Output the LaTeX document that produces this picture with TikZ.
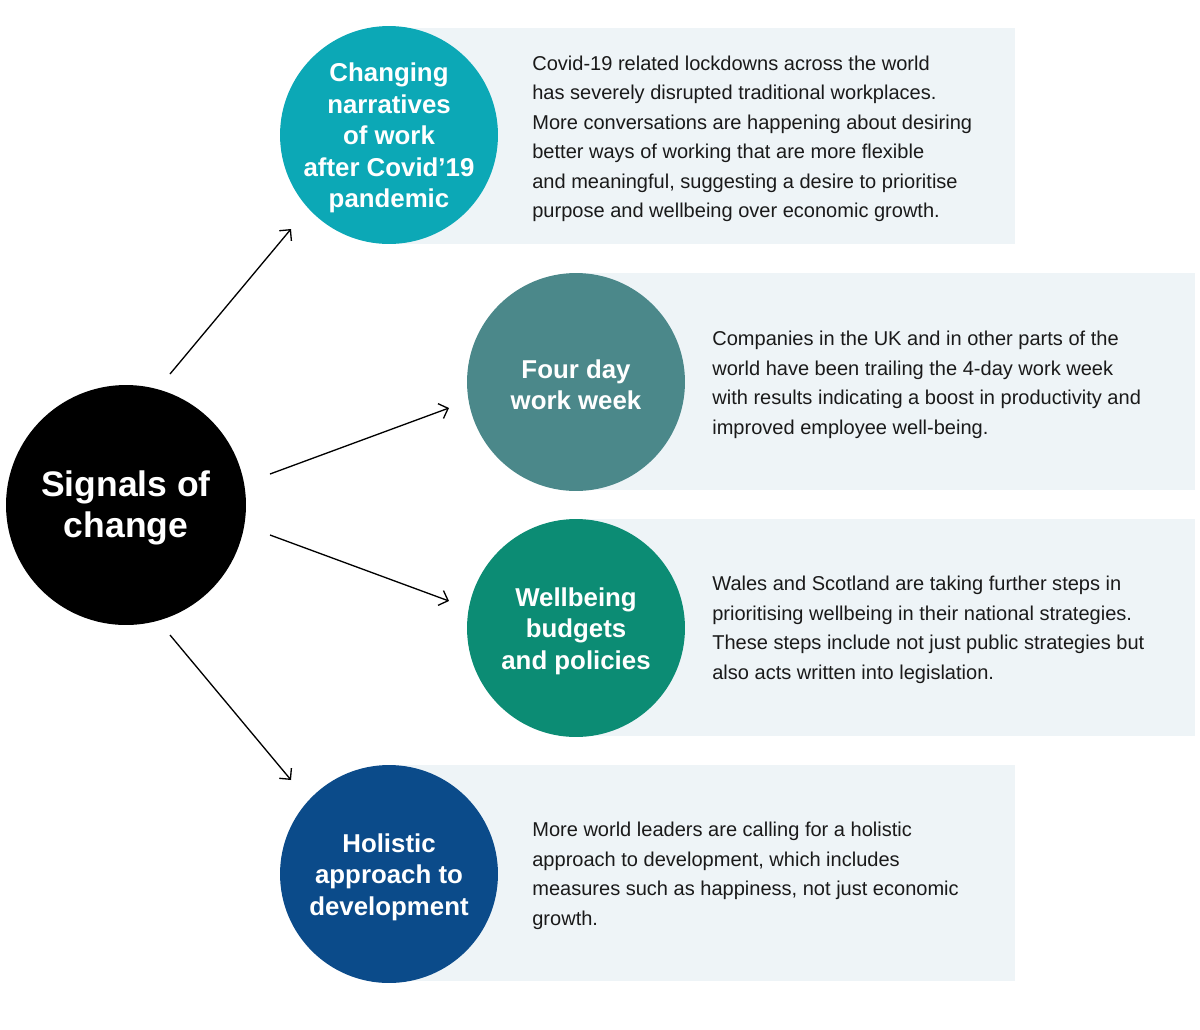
\documentclass[tikz,border=0pt]{standalone}
\usepackage{fontspec}
\setmainfont{Liberation Sans}
\usetikzlibrary{arrows.meta,positioning}
\definecolor{panel}{HTML}{EEF4F7}
\definecolor{covid}{HTML}{0CA8B6}
\definecolor{fourday}{HTML}{4B888A}
\definecolor{wellb}{HTML}{0C8C74}
\definecolor{holist}{HTML}{0B4B8A}
\definecolor{texto}{HTML}{1A1A1A}

\begin{document}
\begin{tikzpicture}[x=0.02cm,y=-0.02cm,
    disc/.style={circle,inner sep=-6pt,minimum size=4.36cm,text=white,align=center,
      font=\fontsize{14.7pt}{17.9pt}\selectfont\bfseries},
    info/.style={anchor=west,align=left,inner sep=0pt,text=texto,
      font=\fontsize{11.4pt}{16.8pt}\selectfont},
    link/.style={-{Straight Barb[length=4.5pt,width=9pt]},line width=0.75pt}]
  \useasboundingbox (0,0) rectangle (1200,1029);
  % panels behind the discs
  \fill[panel] (389,28) rectangle (1015,244);
  \fill[panel] (576,273) rectangle (1195,490);
  \fill[panel] (576,519) rectangle (1195,736);
  \fill[panel] (389,765) rectangle (1015,981);
  % centre
  \node[circle,fill=black,inner sep=0pt,minimum size=4.8cm,text=white,align=center,
    font=\fontsize{20.2pt}{23.8pt}\selectfont\bfseries] (sig) at (126,505) {\rule{0pt}{18pt}Signals of\\change};
  % signals
  \node[disc,fill=covid] (covid) at (389,135) {\rule{0pt}{14pt}Changing\\narratives\\of work\\after Covid’19\\pandemic};
  \node[disc,fill=fourday] (fourday) at (576,382) {\rule{0pt}{14pt}Four day\\work week};
  \node[disc,fill=wellb] (wellb) at (576,628) {\rule{0pt}{14pt}Wellbeing\\budgets\\and policies};
  \node[disc,fill=holist] (holist) at (389,874) {\rule{0pt}{14pt}Holistic\\approach to\\development};
  \node[info] (covidtxt) at (532,139) {Covid-19 related lockdowns across the world\\
    has severely disrupted traditional workplaces.\\
    More conversations are happening about desiring\\
    better ways of working that are more flexible\\
    and meaningful, suggesting a desire to prioritise\\
    purpose and wellbeing over economic growth.};
  \node[info] (fourdaytxt) at (712,385) {Companies in the UK and in other parts of the\\
    world have been trailing the 4-day work week\\
    with results indicating a boost in productivity and\\
    improved employee well-being.};
  \node[info] (wellbtxt) at (712,630) {Wales and Scotland are taking further steps in\\
    prioritising wellbeing in their national strategies.\\
    These steps include not just public strategies but\\
    also acts written into legislation.};
  \node[info] (holisttxt) at (532,876) {More world leaders are calling for a holistic\\
    approach to development, which includes\\
    measures such as happiness, not just economic\\
    growth.};
  % arrows
  \coordinate (s1) at (170,374); \coordinate (e1) at (291,229);
  \coordinate (s2) at (270,474); \coordinate (e2) at (449,408);
  \coordinate (s3) at (270,535); \coordinate (e3) at (449,601);
  \coordinate (s4) at (170,635); \coordinate (e4) at (291,780);
  \foreach \i in {1,...,4}
    \draw[link] (s\i) -- (e\i);
\end{tikzpicture}
\end{document}
